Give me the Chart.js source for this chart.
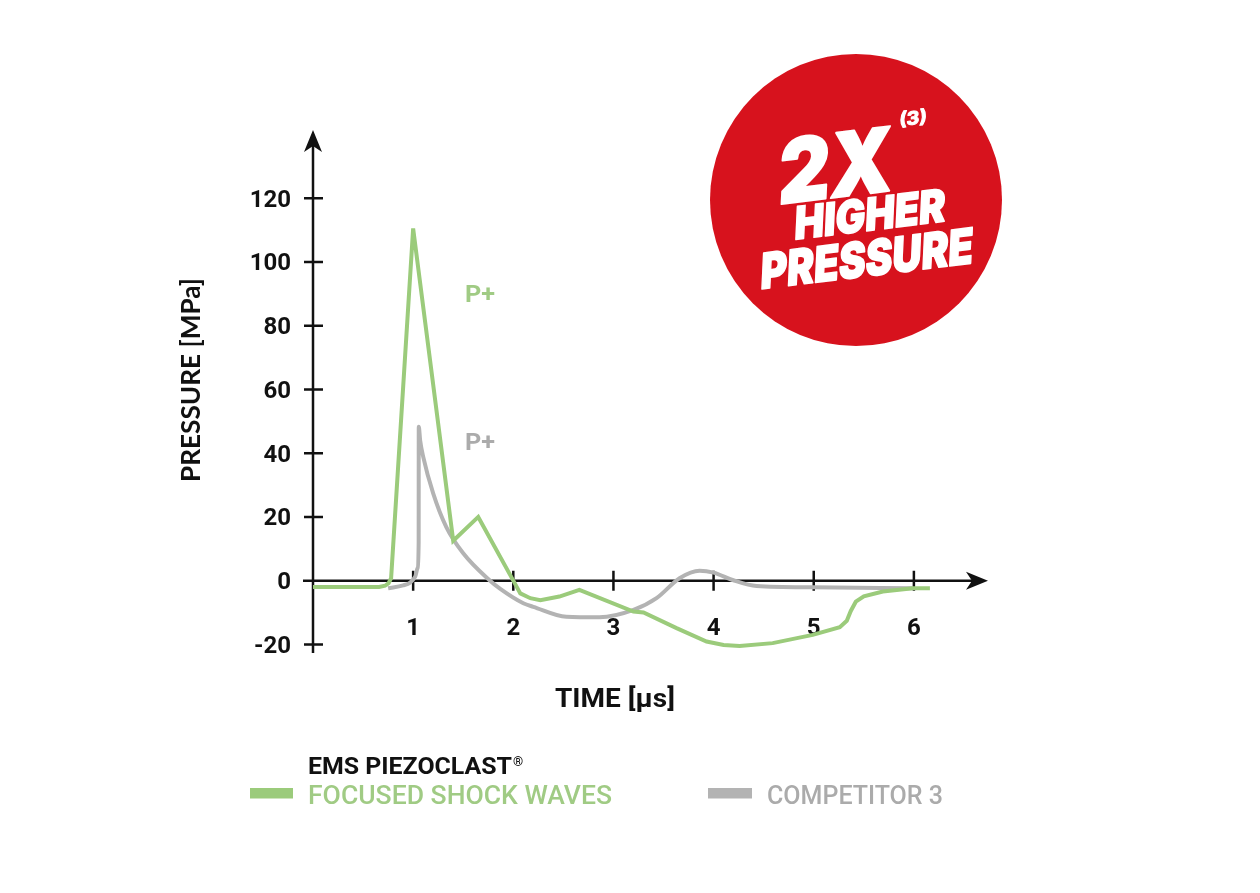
<!DOCTYPE html>
<html>
<head>
<meta charset="utf-8">
<script src="https://cdn.jsdelivr.net/npm/chart.js@4.4.1/dist/chart.umd.min.js"></script>
<style>
    body { margin: 0; background: #fff; }
    #wrap { width: 1260px; height: 893px; position: relative; }
</style>
</head>
<body>
<div id="wrap"><canvas id="pressure-chart"></canvas></div>
<script>
const timeTicks = [1, 2, 3, 4, 5, 6];
const pressureTicks = [-20, 0, 20, 40, 60, 80, 100, 120];

// EMS Piezoclast - focused shock waves
const emsTime = [0, 0.66, 0.72, 0.755, 0.78, 1.0, 1.40, 1.65, 2.0, 2.07, 2.17, 2.27, 2.46, 2.66,
    3.20, 3.30, 3.63, 3.93, 4.10, 4.26, 4.59, 4.99, 5.26, 5.33, 5.37, 5.42, 5.50, 5.69, 5.99, 6.16];
const emsPressure = [-2, -2, -1.6, -0.8, 0.8, 110.5, 12.5, 20, 0, -4, -5.5, -6.1, -5, -2.9,
    -9.7, -10, -14.9, -19.1, -20.2, -20.5, -19.6, -17, -14.6, -12.6, -9.5, -6.6, -4.9, -3.4, -2.4, -2.4];

// competitor 3
const competitorTime = [0.75, 0.90, 0.97, 1.02, 1.045, 1.055, 1.056, 1.07, 1.10, 1.20, 1.33, 1.50,
    1.76, 1.87, 2.10, 2.20, 2.53, 2.86, 3.20, 3.43, 3.66, 3.86, 4.00, 4.19, 4.43, 4.99, 5.99];
const competitorPressure = [-2.4, -1.5, -0.6, 1.2, 4, 12, 48.3, 44, 38.9, 27.4, 16.9, 8.6,
    0.2, -2.6, -7.1, -8.2, -11.3, -11.5, -9.2, -5.5, 0.75, 3.1, 2.5, 0.2, -1.7, -2.1, -2.4];

const legendTitle = "EMS PIEZOCLAST";
const seriesLabels = ["FOCUSED SHOCK WAVES", "COMPETITOR 3"];

const colors = {
    green: "#9bcb7b",
    gray: "#b3b3b3",
    greenText: "#a0cb84",
    grayText: "#ababab",
    ink: "#111111",
    red: "#d7121d",
};

function toPoints(xs, ys) {
    return xs.map((x, i) => ({ x: x, y: ys[i] }));
}

// draw text squeezed/stretched to a given width
function fitText(ctx, text, x, y, width, align, stroke) {
    const w = ctx.measureText(text).width;
    ctx.save();
    ctx.translate(x, y);
    ctx.scale(width / w, 1);
    ctx.textAlign = align;
    if (stroke) {
        ctx.lineJoin = "round";
        ctx.lineWidth = stroke;
        ctx.strokeStyle = ctx.fillStyle;
        ctx.strokeText(text, 0, 0);
    }
    ctx.fillText(text, 0, 0);
    ctx.restore();
}

function arrowHead(ctx, tx, ty, dx, dy) {
    const nx = -dy, ny = dx;
    ctx.beginPath();
    ctx.moveTo(tx, ty);
    ctx.lineTo(tx - dx * 22 + nx * 9, ty - dy * 22 + ny * 9);
    ctx.lineTo(tx - dx * 16, ty - dy * 16);
    ctx.lineTo(tx - dx * 22 - nx * 9, ty - dy * 22 - ny * 9);
    ctx.closePath();
    ctx.fill();
}

const axesPlugin = {
    id: "arrowAxes",
    beforeDatasetsDraw(chart) {
        const { ctx, scales } = chart;
        const x = scales.x, y = scales.y;
        const x0 = x.getPixelForValue(0);
        const y0 = y.getPixelForValue(0);
        ctx.save();
        ctx.strokeStyle = colors.ink;
        ctx.fillStyle = colors.ink;
        ctx.lineWidth = 2.5;
        ctx.beginPath();
        ctx.moveTo(x0, y.bottom);
        ctx.lineTo(x0, y.top + 16);
        ctx.moveTo(x0 - 10, y0);
        ctx.lineTo(x.right - 16, y0);
        pressureTicks.forEach(v => {
            const py = y.getPixelForValue(v);
            ctx.moveTo(x0 - 9, py);
            ctx.lineTo(x0 + 10, py);
        });
        timeTicks.forEach(v => {
            const px = x.getPixelForValue(v);
            ctx.moveTo(px, y0 - 10);
            ctx.lineTo(px, y0 + 10);
        });
        ctx.stroke();
        arrowHead(ctx, x0, y.top, 0, -1);
        arrowHead(ctx, x.right, y0, 1, 0);

        // tick labels
        ctx.font = "bold 24px Roboto, sans-serif";
        ctx.textAlign = "right";
        ctx.textBaseline = "alphabetic";
        pressureTicks.forEach(v => {
            ctx.fillText(String(v), x0 - 22, y.getPixelForValue(v) + 8.5);
        });
        ctx.textAlign = "center";
        timeTicks.forEach(v => {
            ctx.fillText(String(v), x.getPixelForValue(v), y0 + 54);
        });

        // axis titles
        ctx.font = "bold 25px Roboto, sans-serif";
        fitText(ctx, "TIME [µs]", 615, 706.5, 120, "center");
        ctx.save();
        ctx.translate(200, 380);
        ctx.rotate(-Math.PI / 2);
        ctx.font = "bold 27px Lato, 'Open Sans', sans-serif";
        fitText(ctx, "PRESSURE [MPa]", 0, 0, 204, "center");
        ctx.restore();

        // P+ markers next to the peaks
        ctx.font = "bold 24px Roboto, sans-serif";
        ctx.fillStyle = colors.greenText;
        fitText(ctx, "P+", 480, 302, 30, "center");
        ctx.fillStyle = colors.grayText;
        fitText(ctx, "P+", 480, 450, 30, "center");
        ctx.restore();
    },
    afterDraw(chart) {
        const ctx = chart.ctx;
        const sets = chart.data.datasets;
        ctx.save();
        // legend
        ctx.textBaseline = "alphabetic";
        ctx.fillStyle = colors.ink;
        ctx.font = "bold 24px Roboto, sans-serif";
        fitText(ctx, legendTitle, 308, 774, 204, "left");
        ctx.font = "bold 13px Roboto, sans-serif";
        ctx.textAlign = "left";
        ctx.fillText("®", 513, 766);

        ctx.font = "500 26px Roboto, sans-serif";
        ctx.fillStyle = sets[0].borderColor;
        ctx.fillRect(250, 788, 43, 10.5);
        ctx.fillStyle = colors.greenText;
        fitText(ctx, sets[0].label, 308, 804, 304, "left");
        ctx.fillStyle = sets[1].borderColor;
        ctx.fillRect(708, 788, 44, 10.5);
        ctx.fillStyle = colors.grayText;
        fitText(ctx, sets[1].label, 767, 804, 176, "left");

        // red badge
        ctx.fillStyle = colors.red;
        ctx.beginPath();
        ctx.arc(856, 200, 146, 0, Math.PI * 2);
        ctx.fill();
        ctx.translate(856, 200);
        ctx.rotate(-7 * Math.PI / 180);
        ctx.transform(1, 0, -0.17, 1, 0, 0);
        ctx.fillStyle = "#ffffff";
        ctx.font = "900 88px Inter, 'DejaVu Sans', sans-serif";
        fitText(ctx, "2X", -22, -5, 114, "center", 2);
        ctx.font = "bold 18px Inter, 'DejaVu Sans', sans-serif";
        fitText(ctx, "(3)", 54, -68, 28, "center", 1);
        ctx.font = "900 45px Inter, 'DejaVu Sans', sans-serif";
        fitText(ctx, "HIGHER", 15, 32, 152, "center", 1.5);
        ctx.font = "900 49px Inter, 'DejaVu Sans', sans-serif";
        fitText(ctx, "PRESSURE", 14, 77, 214, "center", 1.5);
        ctx.restore();
    },
};

new Chart(document.getElementById("pressure-chart"), {
    type: "line",
    data: {
        datasets: [
            {
                label: seriesLabels[0],
                data: toPoints(emsTime, emsPressure),
                borderColor: colors.green,
                borderWidth: 4,
                tension: 0,
                pointRadius: 0,
            },
            {
                label: seriesLabels[1],
                data: toPoints(competitorTime, competitorPressure),
                borderColor: colors.gray,
                borderWidth: 4,
                cubicInterpolationMode: "monotone",
                pointRadius: 0,
            },
        ],
    },
    options: {
        responsive: true,
        maintainAspectRatio: false,
        animation: false,
        layout: {
            padding: { left: 313, right: 272, top: 130, bottom: 240 },
        },
        scales: {
            x: { type: "linear", min: 0, max: 6.74, display: false },
            y: { type: "linear", min: -22.7, max: 141.4, display: false },
        },
        plugins: {
            legend: { display: false },
            tooltip: { enabled: false },
        },
    },
    plugins: [axesPlugin],
});
</script>
</body>
</html>
